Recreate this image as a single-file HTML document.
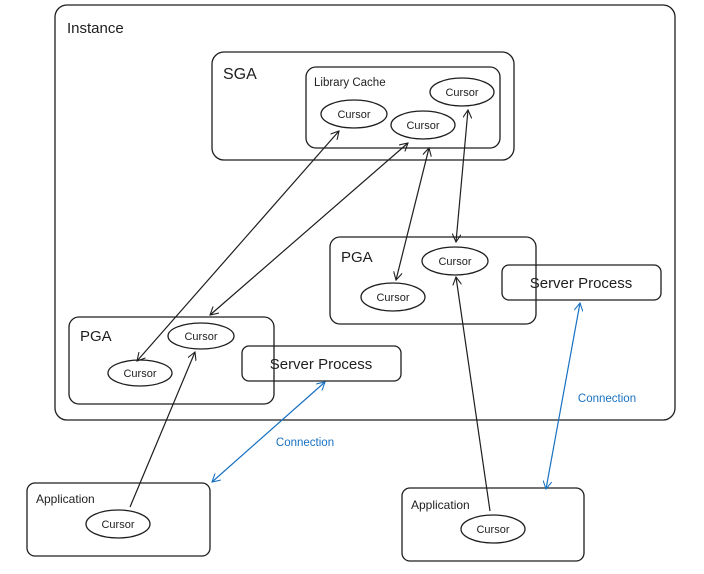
<!DOCTYPE html>
<html><head><meta charset="utf-8"><style>
html,body{margin:0;padding:0;background:#fff;width:704px;height:574px;overflow:hidden}
text{font-family:"Liberation Sans",sans-serif;fill:#1e1e1e}
</style></head><body>
<svg width="704" height="574" viewBox="0 0 704 574" xmlns="http://www.w3.org/2000/svg">
<defs>
<marker id="a" viewBox="0 0 10 10" refX="9" refY="5" markerWidth="9" markerHeight="9" orient="auto-start-reverse" markerUnits="userSpaceOnUse"><path d="M0,0 L9,5 L0,10" fill="none" stroke="#1e1e1e" stroke-width="1.2"/></marker>
<marker id="b" viewBox="0 0 10 10" refX="9" refY="5" markerWidth="9" markerHeight="9" orient="auto-start-reverse" markerUnits="userSpaceOnUse"><path d="M0,0 L9,5 L0,10" fill="none" stroke="#1971c2" stroke-width="1.2"/></marker>
</defs>
<g fill="none" stroke="#1e1e1e" stroke-width="1.3">
<rect x="55" y="5" width="620" height="415" rx="12"/>
<rect x="212" y="52" width="302" height="108" rx="12"/>
<rect x="306" y="67" width="194" height="81" rx="10"/>
<ellipse cx="354" cy="114" rx="33" ry="14"/>
<ellipse cx="423" cy="125" rx="32" ry="14"/>
<ellipse cx="462" cy="92" rx="32" ry="14"/>
<rect x="330" y="237" width="206" height="87" rx="10"/>
<ellipse cx="455" cy="261" rx="33" ry="14"/>
<ellipse cx="393" cy="297" rx="32" ry="14"/>
<rect x="502" y="265" width="159" height="35" rx="7"/>
<rect x="69" y="317" width="205" height="87" rx="10"/>
<ellipse cx="201" cy="336" rx="33" ry="13"/>
<ellipse cx="140" cy="373" rx="32" ry="13"/>
<rect x="242" y="346" width="159" height="35" rx="7"/>
<rect x="27" y="483" width="183" height="73" rx="8"/>
<ellipse cx="118" cy="524" rx="32" ry="14"/>
<rect x="402" y="488" width="182" height="73" rx="8"/>
<ellipse cx="493" cy="529" rx="32" ry="14"/>
</g>
<g stroke="#1e1e1e" stroke-width="1.2" fill="none">
<line x1="137" y1="361" x2="339" y2="131" marker-start="url(#a)" marker-end="url(#a)"/>
<line x1="210" y1="315" x2="408" y2="143" marker-start="url(#a)" marker-end="url(#a)"/>
<line x1="396" y1="280" x2="429" y2="148" marker-start="url(#a)" marker-end="url(#a)"/>
<line x1="456" y1="242" x2="468" y2="110" marker-start="url(#a)" marker-end="url(#a)"/>
<line x1="130" y1="507" x2="195" y2="352" marker-end="url(#a)"/>
<line x1="490" y1="511" x2="456" y2="277" marker-end="url(#a)"/>
</g>
<g stroke="#1971c2" stroke-width="1.2" fill="none">
<line x1="212" y1="482" x2="325" y2="382" marker-start="url(#b)" marker-end="url(#b)"/>
<line x1="546" y1="489" x2="580" y2="303" marker-start="url(#b)" marker-end="url(#b)"/>
</g>
<text x="67" y="33" font-size="15">Instance</text>
<text x="223" y="79" font-size="16">SGA</text>
<text x="314" y="86" font-size="11.5">Library Cache</text>
<g font-size="11" text-anchor="middle">
<text x="354" y="118">Cursor</text>
<text x="423" y="129">Cursor</text>
<text x="462" y="96">Cursor</text>
<text x="455" y="265">Cursor</text>
<text x="393" y="301">Cursor</text>
<text x="201" y="340">Cursor</text>
<text x="140" y="377">Cursor</text>
<text x="118" y="528">Cursor</text>
<text x="493" y="533">Cursor</text>
</g>
<text x="341" y="262" font-size="15">PGA</text>
<text x="80" y="341" font-size="15">PGA</text>
<text x="581" y="288" font-size="15" text-anchor="middle">Server Process</text>
<text x="321" y="369" font-size="15" text-anchor="middle">Server Process</text>
<text x="36" y="503" font-size="12">Application</text>
<text x="411" y="509" font-size="12">Application</text>
<text x="305" y="446" font-size="11.5" text-anchor="middle" style="fill:#1971c2">Connection</text>
<text x="607" y="402" font-size="11.5" text-anchor="middle" style="fill:#1971c2">Connection</text>
</svg>
</body></html>
